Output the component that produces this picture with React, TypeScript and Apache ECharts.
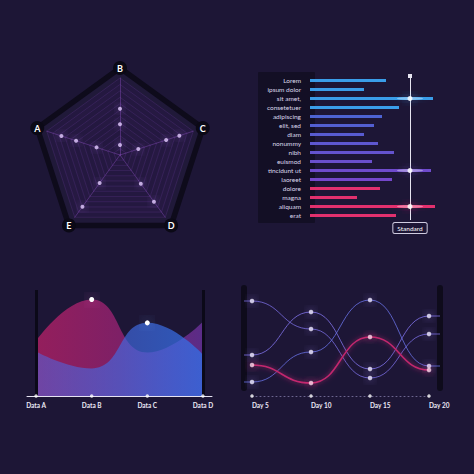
import React, { useEffect, useRef } from 'react';
import * as echarts from 'echarts';

// ---------- data ----------
const radarAxes = ['B', 'A', 'E', 'D', 'C'];
const radarSeriesOuter = [0.6, 0.8, 0.83, 0.75, 0.81];
const radarSeriesMiddle = [0.4, 0.6, 0.45, 0.46, 0.63];
const radarSeriesInner: (number | null)[] = [0.13, 0.32, null, null, 0.25];

const barCategories = ['Lorem', 'ipsum dolor', 'sit amet,', 'consetetuer', 'adipiscing', 'elit, sed', 'diam', 'nonummy', 'nibh', 'euismod', 'tincidunt ut', 'laoreet', 'dolore', 'magna', 'aliquam', 'erat'];
const barValues = [76, 54, 123, 89, 72, 64, 54, 68, 84, 62, 121, 82, 70, 47, 125, 86];
const standardValue = 100;

const areaCategories = ['Data A', 'Data B', 'Data C', 'Data D'];
const areaPink = [52, 91, 41, 70];
const areaBlue = [42, 26, 69, 39];

const dayTicks = [5, 10, 15, 20];
const lineOne = [87, 59, 10, 54];
const lineTwo = [33, 76, 19, 72];
const lineThree = [6, 36, 88, 22];
const linePink = [23, 5, 51, 18];

// ---------- styles ----------
const BG = '#1d1636';
const FONT = 'Lato, "Noto Sans", sans-serif';

function hex(c: string) {
  return [1, 3, 5].map((k) => parseInt(c.slice(k, k + 2), 16));
}
function lerpColor(a: string, b: string, t: number) {
  const A = hex(a), B = hex(b);
  const m = A.map((v, k) => Math.round(v + (B[k] - v) * t));
  return `rgb(${m[0]},${m[1]},${m[2]})`;
}
function barColor(i: number) {
  if (i < 4) return '#3a9de9';
  if (i < 12) return lerpColor('#4d63d3', '#7547cb', (i - 4) / 7);
  return '#e2306e';
}

function curveSeries(vals: number[], color: string, width: number, glow: string | null) {
  return {
    type: 'custom',
    xAxisIndex: 2,
    yAxisIndex: 2,
    coordinateSystem: 'cartesian2d',
    silent: true,
    z: 3,
    data: vals.map((v, i) => [dayTicks[i], v]),
    renderItem: (params: any, api: any) => {
      const i = params.dataIndex;
      const cs = params.coordSys;
      const p0 = api.coord([dayTicks[i], vals[i]]);
      const style: any = { stroke: color, lineWidth: width, fill: null };
      if (glow) { style.shadowBlur = 5; style.shadowColor = glow; }
      const children: any[] = [];
      if (i === 0) {
        children.push({ type: 'line', shape: { x1: cs.x, y1: p0[1], x2: p0[0], y2: p0[1] }, style });
      }
      if (i < vals.length - 1) {
        const p1 = api.coord([dayTicks[i + 1], vals[i + 1]]);
        const mx = (p0[0] + p1[0]) / 2;
        children.push({
          type: 'bezierCurve',
          shape: { x1: p0[0], y1: p0[1], x2: p1[0], y2: p1[1], cpx1: mx, cpy1: p0[1], cpx2: mx, cpy2: p1[1] },
          style,
        });
      } else {
        children.push({ type: 'line', shape: { x1: p0[0], y1: p0[1], x2: cs.x + cs.width, y2: p0[1] }, style });
      }
      return { type: 'group', children };
    },
  };
}

function dotSeries(vals: number[], fill: string, glow: string) {
  return {
    type: 'scatter',
    xAxisIndex: 2,
    yAxisIndex: 2,
    silent: true,
    z: 5,
    symbol: 'circle',
    symbolSize: 4.5,
    itemStyle: { color: fill, shadowBlur: 9, shadowColor: glow },
    data: vals.map((v, i) => [dayTicks[i], v]),
  };
}

function buildOption(): any {
  const glowData = barValues
    .map((v, i) => (v > standardValue ? { value: [standardValue, barCategories[i]], itemStyle: { shadowColor: barColor(i) } } : null))
    .filter(Boolean);

  const radarDots: number[][] = [];
  [radarSeriesOuter, radarSeriesMiddle, radarSeriesInner].forEach((s) =>
    s.forEach((v, i) => { if (typeof v === 'number') radarDots.push([v, i]); })
  );

  return {
    backgroundColor: BG,
    animation: false,
    textStyle: { fontFamily: FONT },
    graphic: {
      elements: [
        { type: 'rect', z: -1, shape: { x: 258, y: 72, width: 57, height: 151, r: 1 }, style: { fill: '#130f25' } },
      ],
    },
    radar: [
      {
        center: [120, 155],
        radius: 87,
        startAngle: 90,
        shape: 'polygon',
        splitNumber: 1,
        indicator: radarAxes.map((n, i) => ({ name: n, min: 0, max: i + 1 })),
        axisName: { show: false },
        axisLine: { show: false },
        axisTick: { show: false },
        axisLabel: { show: false },
        splitLine: { lineStyle: { color: '#0e0b1b', width: 5.5 } },
        splitArea: { show: true, areaStyle: { color: ['#201939'] } },
      },
      {
        center: [120, 155],
        radius: 77,
        startAngle: 90,
        shape: 'polygon',
        splitNumber: 12,
        indicator: radarAxes.map((n) => ({ name: n, min: 0, max: 1 })),
        axisName: { show: false },
        axisLine: { lineStyle: { color: 'rgba(150,85,205,0.55)', width: 0.7 } },
        axisTick: { show: false },
        axisLabel: { show: false },
        splitLine: { lineStyle: { color: 'rgba(140,75,195,0.36)', width: 0.5 } },
        splitArea: { show: true, areaStyle: { color: ['rgba(55,28,95,0.25)', 'rgba(48,24,88,0.25)'] } },
      },
    ],
    polar: { center: [120, 155], radius: 77 },
    angleAxis: { type: 'value', min: 0, max: radarAxes.length, startAngle: 90, clockwise: false, show: false },
    radiusAxis: { type: 'value', min: 0, max: 1, show: false },
    grid: [
      { left: 310, top: 76, width: 140, height: 144 },
      { left: 27, top: 290, width: 185, height: 106 },
      { left: 244, top: 288, width: 196, height: 100 },
      { left: 252, top: 395, width: 177, height: 1 },
    ],
    xAxis: [
      { gridIndex: 0, type: 'value', min: 0, max: 140, show: false },
      {
        gridIndex: 1, type: 'value', min: -0.163, max: 3.163,
        axisLine: { show: true, lineStyle: { color: '#e6e3f2', width: 1 } },
        axisTick: { show: false },
        splitLine: { show: false },
        axisLabel: {
          customValues: areaCategories.map((_, i) => i),
          formatter: (v: number) => areaCategories[Math.round(v)],
          color: '#ebe8f5', fontSize: 6.5, fontWeight: 'bold', fontFamily: FONT, margin: 6,
        },
      },
      { gridIndex: 2, type: 'value', min: 4.32, max: 20.93, show: false },
      {
        gridIndex: 3, type: 'value', min: 5, max: 20, interval: 5,
        axisLine: { show: true, lineStyle: { color: '#6d6690', width: 1, type: [1, 3] } },
        axisTick: { show: false },
        splitLine: { show: false },
        axisLabel: {
          formatter: 'Day {value}', align: 'left',
          color: '#ebe8f5', fontSize: 6.5, fontWeight: 'bold', fontFamily: FONT, margin: 6,
        },
      },
    ],
    yAxis: [
      {
        gridIndex: 0, type: 'category', data: barCategories, inverse: true,
        axisLine: { show: false }, axisTick: { show: false },
        axisLabel: { interval: 0, color: '#dcd8ec', fontSize: 6.5, fontFamily: FONT, margin: 9 },
      },
      { gridIndex: 1, type: 'value', min: 0, max: 100, show: false },
      {
        gridIndex: 2, type: 'value', min: 0, max: 100, position: 'left',
        axisLine: { show: true, lineStyle: { color: '#0e0b1b', width: 6 } },
        axisTick: { show: false }, axisLabel: { show: false }, splitLine: { show: false },
      },
      {
        gridIndex: 2, type: 'value', min: 0, max: 100, position: 'right',
        axisLine: { show: true, lineStyle: { color: '#0e0b1b', width: 6 } },
        axisTick: { show: false }, axisLabel: { show: false }, splitLine: { show: false },
      },
      { gridIndex: 3, type: 'value', min: 0, max: 1, show: false },
    ],
    series: [
      // radar frame labels
      {
        type: 'radar', radarIndex: 0, silent: true, z: 10,
        symbol: 'circle', symbolSize: 14,
        lineStyle: { opacity: 0 },
        itemStyle: { color: '#0b0916' },
        label: {
          show: true, position: 'inside', color: '#ffffff', fontSize: 9, fontWeight: 'bold', fontFamily: FONT,
          formatter: (p: any) => {
            const v = typeof p.value === 'number' ? p.value : (p.dimensionIndex != null ? p.dimensionIndex + 1 : 1);
            return radarAxes[Math.round(v) - 1];
          },
        },
        data: [{ value: radarAxes.map((_, i) => i + 1) }],
      },
      // radar points
      {
        type: 'scatter', coordinateSystem: 'polar', silent: true, z: 5,
        symbol: 'circle', symbolSize: 4,
        itemStyle: { color: '#e4ccff', shadowBlur: 8, shadowColor: '#b57bff' },
        data: radarDots,
      },
      // bars
      {
        type: 'bar', xAxisIndex: 0, yAxisIndex: 0, barWidth: 3, silent: true,
        data: barValues.map((v, i) => ({ value: v, itemStyle: { color: barColor(i) } })),
        markLine: {
          silent: true,
          symbol: ['rect', 'none'], symbolSize: [4, 4],
          lineStyle: { color: '#e6e4f0', width: 1, type: 'solid' },
          label: {
            show: true, position: 'end', formatter: 'Standard', distance: 3,
            color: '#ffffff', fontSize: 6.5, fontFamily: FONT,
            borderColor: '#cfcbe0', borderWidth: 1, borderRadius: 1.5, padding: [2, 4, 1, 4],
            backgroundColor: BG,
          },
          data: [{ xAxis: standardValue }],
        },
      },
      {
        type: 'scatter', xAxisIndex: 0, yAxisIndex: 0, silent: true, z: 6,
        symbol: 'circle', symbolSize: [26, 3],
        itemStyle: { color: 'rgba(255,255,255,0.45)', shadowBlur: 10 },
        data: glowData,
      },
      {
        type: 'scatter', xAxisIndex: 0, yAxisIndex: 0, silent: true, z: 7,
        symbol: 'circle', symbolSize: 5,
        itemStyle: { color: '#ffffff', shadowBlur: 12 },
        data: glowData,
      },
      // area chart
      {
        type: 'line', xAxisIndex: 1, yAxisIndex: 1, silent: true, smooth: 0.5,
        symbol: 'none', lineStyle: { width: 0 },
        areaStyle: {
          opacity: 1,
          color: new echarts.graphic.LinearGradient(0, 0, 1, 0, [
            { offset: 0, color: '#941e5c' },
            { offset: 0.5, color: '#7e2066' },
            { offset: 1, color: '#5a2c88' },
          ]),
        },
        data: areaPink.map((v, i) => [i, v]),
        markPoint: {
          silent: true, symbol: 'circle', symbolSize: 5,
          itemStyle: { color: '#ffffff', shadowBlur: 14, shadowColor: '#ff6ad0' },
          label: { show: false },
          data: [{ type: 'max', valueIndex: 1 }],
        },
      },
      {
        type: 'line', xAxisIndex: 1, yAxisIndex: 1, silent: true, smooth: 0.5,
        symbol: 'none', lineStyle: { width: 0 },
        areaStyle: {
          opacity: 1,
          color: new echarts.graphic.LinearGradient(0, 0, 1, 0, [
            { offset: 0, color: 'rgba(82,100,222,0.55)' },
            { offset: 1, color: 'rgba(50,112,232,0.75)' },
          ]),
        },
        data: areaBlue.map((v, i) => [i, v]),
        markPoint: {
          silent: true, symbol: 'circle', symbolSize: 5,
          itemStyle: { color: '#ffffff', shadowBlur: 14, shadowColor: '#69b0ff' },
          label: { show: false },
          data: [{ type: 'max', valueIndex: 1 }],
        },
        markLine: {
          silent: true, symbol: ['none', 'none'],
          lineStyle: { color: '#0b0918', width: 3, type: 'solid' },
          label: { show: false },
          data: [{ xAxis: 0 }, { xAxis: areaCategories.length - 1 }],
        },
      },
      {
        type: 'scatter', xAxisIndex: 1, yAxisIndex: 1, silent: true, z: 6,
        symbol: 'circle', symbolSize: 3.5, itemStyle: { color: '#ffffff' },
        data: areaCategories.map((_, i) => [i, 0]),
      },
      // line chart
      curveSeries(lineOne, 'rgba(120,108,222,0.8)', 1, null),
      curveSeries(lineTwo, 'rgba(128,114,232,0.8)', 1, null),
      curveSeries(lineThree, 'rgba(104,112,228,0.8)', 1, null),
      curveSeries(linePink, '#c4286e', 1.5, 'rgba(255,50,140,0.6)'),
      dotSeries(lineOne, '#efe9ff', '#a48cff'),
      dotSeries(lineTwo, '#efe9ff', '#a48cff'),
      dotSeries(lineThree, '#efe9ff', '#a48cff'),
      dotSeries(linePink, '#ffd6ea', '#ff4d9a'),
      {
        type: 'scatter', xAxisIndex: 3, yAxisIndex: 4, silent: true, z: 6,
        symbol: 'circle', symbolSize: 3.5, itemStyle: { color: '#ffffff' },
        data: dayTicks.map((d) => [d, 0]),
      },
    ],
  };
}

export default function App() {
  const ref = useRef<HTMLDivElement>(null);
  useEffect(() => {
    document.body.style.margin = '0';
    const chart = echarts.init(ref.current!, null, { renderer: 'svg' });
    chart.setOption(buildOption());
    return () => chart.dispose();
  }, []);
  return <div ref={ref} style={{ width: 474, height: 474 }} />;
}
